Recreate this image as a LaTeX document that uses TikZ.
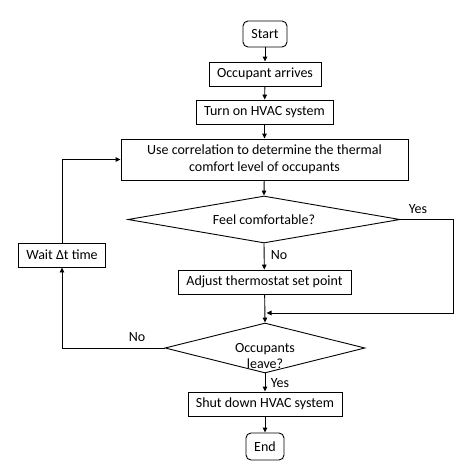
\documentclass[tikz,border=0pt]{standalone}
\usepackage{fontspec}
\setmainfont{Carlito}
\usetikzlibrary{shapes.geometric,arrows.meta}

\begin{document}
\begin{tikzpicture}[x=1pt,y=-1pt,
  box/.style={draw, line width=0.9pt, inner sep=0pt, font=\fontsize{14}{16.7}\selectfont},
  term/.style={box, rounded corners=5pt},
  dia/.style={draw, line width=0.9pt, diamond, inner sep=0pt},
  flow/.style={line width=0.9pt, -{Triangle[length=5pt,width=4.5pt]}},
  lbl/.style={font=\fontsize{14}{16.7}\selectfont, inner sep=0pt}]
  \useasboundingbox (0,0) rectangle (474,474);
  \node[term, minimum width=44pt, minimum height=26pt] (start) at (265,34) {Start};
  \node[box, minimum width=112pt, minimum height=24pt] (arrive) at (265,74) {Occupant arrives};
  \node[box, minimum width=137pt, minimum height=24pt] (hvacon) at (264.5,112) {Turn on HVAC system};
  \node[box, minimum width=287pt, minimum height=41pt, align=center] (corr) at (264.5,159.5) {Use correlation to determine the thermal\\comfort level of occupants};
  \node[dia, minimum width=272pt, minimum height=47pt] (feel) at (264,219.5) {};
  \node[lbl] (feeltxt) at (feel) {Feel comfortable?};
  \node[box, minimum width=173pt, minimum height=24pt] (adjust) at (264.5,282) {Adjust thermostat set point};
  \node[box, minimum width=87pt, minimum height=24pt] (wait) at (62,255) {Wait Δt time};
  \node[dia, minimum width=200pt, minimum height=50pt] (leave) at (265,348) {};
  \node[lbl, align=center] (leavetxt) at (265,356) {Occupants\\leave?};
  \node[box, minimum width=154pt, minimum height=24pt] (shut) at (265,404) {Shut down HVAC system};
  \node[term, minimum width=38pt, minimum height=27pt] (stop) at (265,446.5) {End};
  \coordinate (merge) at (265,313);
  \coordinate (yesturn) at (453,313);
  % main line
  \draw[flow] (start) -- (arrive);
  \draw[flow] (arrive) -- (hvacon);
  \draw[flow] (hvacon) -- (corr);
  \draw[flow] (corr) -- (feel.north);
  \draw[flow] (feel.south) -- (adjust);
  \draw[flow] (adjust) -- (leave.north);
  \draw[flow] (leave.south) -- (shut);
  \draw[flow] (shut) -- (stop);
  % branches
  \draw[flow, shorten >=1.5pt] (feel.east) -| (yesturn) -- (merge);
  \draw[flow] (leave.west) -| (wait.south);
  \draw[flow] (wait.north) |- (corr.west);
  \node[lbl] (yes1) at (418,209) {Yes};
  \node[lbl] (no1) at (279,255) {No};
  \node[lbl] (no2) at (137,337) {No};
  \node[lbl] (yes2) at (280,383) {Yes};
\end{tikzpicture}
\end{document}
